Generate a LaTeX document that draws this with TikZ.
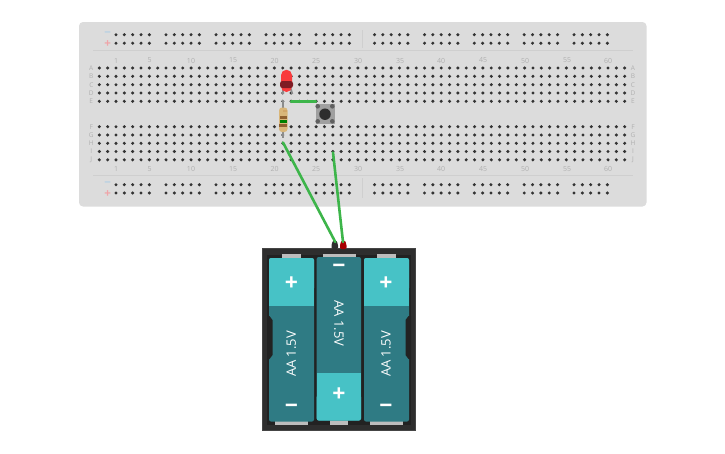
\documentclass[tikz,border=0pt]{standalone}
\usepackage{fontspec}
\setmainfont{Open Sans}
\definecolor{boardc}{HTML}{DCDCDC}
\definecolor{linec}{HTML}{CFCFCF}
\definecolor{holec}{HTML}{333333}
\definecolor{labc}{HTML}{B0B0B0}
\definecolor{wirec}{HTML}{3DB54A}
\definecolor{casec}{HTML}{2E2E2E}
\definecolor{caseedge}{HTML}{454545}
\definecolor{innerc}{HTML}{222222}
\definecolor{lightb}{HTML}{47C2C6}
\definecolor{darkb}{HTML}{2F7B84}
\definecolor{tabc}{HTML}{BDBDBD}
\definecolor{legc}{HTML}{8C8C8C}
\definecolor{tanc}{HTML}{D9B67A}
\definecolor{ledred}{HTML}{F93A3C}
\definecolor{ledbase}{HTML}{7E1C24}
\definecolor{minusc}{HTML}{B4D0E4}
\definecolor{plusc}{HTML}{F0A4A8}
\tikzset{
  pixel/.style={x=1pt,y=-1pt},
  collabel/.style={text=labc,font=\fontsize{7}{7}\selectfont,inner sep=0pt},
  rowlabel/.style={text=labc,font=\fontsize{6.5}{7}\selectfont,inner sep=0pt},
  signlabel/.style={inner sep=0pt,font=\bfseries\fontsize{11.5}{11.5}\selectfont},
  wire/.style={draw=wirec,line width=2.6pt,line cap=round},
  battext/.style={text=white,font=\fontsize{13}{13}\selectfont,inner sep=0pt},
  batsign/.style={text=white,font=\bfseries\fontsize{23}{23}\selectfont,inner sep=0pt},
  leg/.style={draw=legc,line width=1.8pt},
}
\newcommand{\holeat}[2]{\fill[holec] (#1,#2) circle[radius=1.7];}
\begin{document}
\begin{tikzpicture}[pixel]
\useasboundingbox (0,0) rectangle (725,453);
% board
\fill[boardc,rounded corners=4pt] (79,22) rectangle (646.5,206.5);
\draw[linec,line width=.7pt] (93,50.3) -- (633,50.3);
\draw[linec,line width=.7pt] (93,175.3) -- (633,175.3);
\draw[linec,line width=.7pt] (362.7,30) -- (362.7,48);
\draw[linec,line width=.7pt] (362.7,178) -- (362.7,198);
% terminal strip holes
\foreach \c in {-1,...,62}{
  \pgfmathsetmacro{\xx}{116+8.339*(\c-1)}
  \foreach \yy in {68,76.3,84.7,93,101.3,126.7,135,143.3,151.5,159.8}{
    \holeat{\xx}{\yy}
  }
}
% rail holes
\foreach \g in {116,166,216,266,316,374.5,424.5,474.3,524.2,574}{
  \foreach \i in {0,...,4}{
    \foreach \yy in {34.7,43.2,184.7,193}{
      \holeat{\g+8.34*\i}{\yy}
    }
  }
}
% column labels
\foreach \n/\xx in {1/116,5/149.5,10/191,15/233,20/274.5,25/316,30/358,35/400,40/441,45/483,50/525,55/567,60/608}{
  \node[collabel] (top\n) at (\xx,60.5) {\n};
  \node[collabel] (bot\n) at (\xx,168.7) {\n};
}
% row labels
\foreach \l/\yy in {A/68,B/76.3,C/84.7,D/93,E/101.3,F/126.7,G/135,H/143.3,I/151.5,J/159.8}{
  \node[rowlabel] (l\l) at (91.3,\yy) {\l};
  \node[rowlabel] (r\l) at (633,\yy) {\l};
}
% rail signs
\node[signlabel,text=minusc] (minusTop) at (107.6,34.5) {−};
\node[signlabel,text=plusc] (plusTop) at (107.6,43.8) {+};
\node[signlabel,text=minusc] (minusBot) at (107.6,184.3) {−};
\node[signlabel,text=plusc] (plusBot) at (107.6,193.6) {+};
% LED
\draw[leg] (283,86) -- (283,94);
\draw[leg] (290,86) -- (292.3,94);
\fill[ledred,rounded corners=5.4pt] (281,69.8) rectangle (292,92);
\fill[ledbase,rounded corners=2.5pt] (280,81) rectangle (293,88);
% resistor
\draw[leg] (283,100) -- (283,138);
\fill[tanc,rounded corners=3pt] (279,107.5) rectangle (287.5,132);
\fill[tanc!70!brown] (283,110) rectangle (287,111.8);
\fill[brown!75!black] (279.6,116) rectangle (286.8,118.5);
\fill[green!50!black] (279.6,120) rectangle (286.8,122.7);
\fill[brown!75!black] (279.3,124) rectangle (287.2,126.7);
% wire on the board
\coordinate (jumpA) at (291,101.5);
\coordinate (jumpB) at (316,101.5);
\draw[wire,line width=2.2pt] (jumpA) -- (jumpB);
% push button
\fill[gray!65!boardc] (315.5,104) rectangle (334.7,124);
\node[circle,fill=casec,minimum size=11.5pt,inner sep=0pt] (btn) at (325,114.2) {};
\foreach \xx in {317.7,332.3}{\foreach \yy in {106.3,121.3}{\fill[gray!75!black] (\xx,\yy) circle[radius=2.3];}}
% battery holder
\fill[casec,draw=caseedge,line width=1pt] (262.5,248.5) rectangle (415,430);
\fill[innerc] (267,255) rectangle (411,425);
% tabs
\fill[tabc] (282,254) rectangle (301,259);
\fill[tabc] (322.5,254) rectangle (355.5,258);
\fill[tabc] (377,254) rectangle (396,259);
\fill[tabc] (275,421) rectangle (308,424.5);
\fill[tabc] (330,420) rectangle (348,424.5);
\fill[tabc] (370,421) rectangle (403,424.5);
% batteries
\fill[darkb,rounded corners=2pt] (269,258) rectangle (314,421.5);
\fill[darkb,rounded corners=2pt] (316.7,257) rectangle (361,420.5);
\fill[darkb,rounded corners=2pt] (364,258) rectangle (409,421.5);
\fill[lightb,rounded corners=2pt] (269,258) rectangle (314,290);
\fill[lightb] (269,280) rectangle (314,306);
\fill[lightb,rounded corners=2pt] (364,258) rectangle (409,290);
\fill[lightb] (364,280) rectangle (409,306);
\fill[lightb,rounded corners=2pt] (316.7,395) rectangle (361,420.5);
\fill[lightb] (316.7,372.5) rectangle (361,400);
% holder side clips
\fill[innerc] (267,316) -- (269.5,316) -- (272.5,320) -- (272.5,355) -- (269.5,359) -- (267,359) -- cycle;
\fill[innerc] (411,316) -- (408.5,316) -- (405.5,320) -- (405.5,355) -- (408.5,359) -- (411,359) -- cycle;
% texts
\node[battext,rotate=90] (batL) at (291.3,354) {AA 1.5V};
\node[battext,rotate=-90] (batM) at (339,323.5) {AA 1.5V};
\node[battext,rotate=90] (batR) at (386,354) {AA 1.5V};
\node[batsign] (pL) at (291.5,283.5) {+};
\node[batsign] (mL) at (291.5,408.5) {−};
\node[batsign] (mM) at (339,269) {−};
\node[batsign] (pM) at (339,395) {+};
\node[batsign] (pR) at (386,283.5) {+};
\node[batsign] (mR) at (386,408.5) {−};
% terminals
\fill[casec,rounded corners=1.5pt] (331.5,249) -- (331.5,244) -- (333.5,240) -- (336,240) -- (338,244) -- (338,249) -- cycle;
\fill[red!65!black,rounded corners=1.5pt] (340,249) -- (340,244) -- (342,240) -- (344.5,240) -- (346.5,244) -- (346.5,249) -- cycle;
% wires to the battery
\coordinate (startA) at (283,142.5);
\coordinate (endA) at (335.3,242);
\coordinate (startB) at (333,152.5);
\coordinate (endB) at (343,242);
\draw[wire] (startA) -- (endA);
\draw[wire] (startB) -- (endB);
\end{tikzpicture}
\end{document}
